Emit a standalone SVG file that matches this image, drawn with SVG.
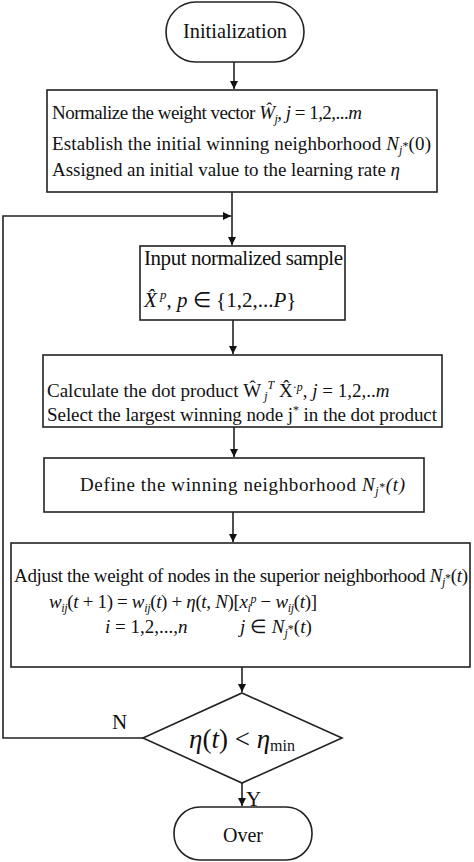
<svg xmlns="http://www.w3.org/2000/svg" width="474" height="862" viewBox="0 0 474 862">
<style>
.shape{fill:#fff;stroke:#222;stroke-width:1.6}
.ln{fill:none;stroke:#222;stroke-width:1.6}
text{font-family:"Liberation Serif","Times New Roman",serif;fill:#111;font-size:19px}
.i{font-style:italic}
.s{font-size:12px}
</style>
<defs>
<marker id="ah" viewBox="0 0 10 10" refX="10" refY="5" markerWidth="8" markerHeight="8" markerUnits="userSpaceOnUse" orient="auto">
<path d="M0,0 L10,5 L0,10 z" fill="#111"/>
</marker>
</defs>
<rect x="0" y="0" width="474" height="862" fill="#fff"/>
<g id="connectors">
<line class="ln" x1="234" y1="62" x2="234" y2="89" marker-end="url(#ah)"/>
<line class="ln" x1="232" y1="192" x2="232" y2="245" marker-end="url(#ah)"/>
<line class="ln" x1="233" y1="320" x2="233" y2="354" marker-end="url(#ah)"/>
<line class="ln" x1="234" y1="427" x2="234" y2="457" marker-end="url(#ah)"/>
<line class="ln" x1="233" y1="512" x2="233" y2="542" marker-end="url(#ah)"/>
<line class="ln" x1="242" y1="667" x2="242" y2="692" marker-end="url(#ah)"/>
<line class="ln" x1="242" y1="783" x2="242" y2="806" marker-end="url(#ah)"/>
<polyline class="ln" points="143,738 3,738 3,216 231,216" marker-end="url(#ah)"/>
<text x="112" y="729" style="font-size:21px">N</text>
<text x="246" y="806" style="font-size:21px">Y</text>
</g>
<g id="init">
<rect class="shape" x="166" y="2" width="138" height="60" rx="30"/>
<text x="235" y="38" text-anchor="middle" style="font-size:21px" textLength="104" lengthAdjust="spacingAndGlyphs">Initialization</text>
</g>
<g id="box1">
<rect class="shape" x="47" y="90" width="390" height="102"/>
<text x="52" y="119" textLength="310">Normalize the weight vector <tspan class="i">Ŵ</tspan><tspan class="s i" dy="4">j</tspan><tspan dy="-4">, </tspan><tspan class="i">j</tspan> = 1,2,...<tspan class="i">m</tspan></text>
<text x="52" y="150" textLength="379">Establish the initial winning neighborhood <tspan class="i">N</tspan><tspan class="s i" dy="4">j</tspan><tspan class="s" dy="-4">*</tspan><tspan>(0)</tspan></text>
<text x="52" y="176" textLength="348">Assigned an initial value to the learning rate <tspan class="i">η</tspan></text>
</g>
<g id="box2">
<rect class="shape" x="140" y="246" width="205" height="74"/>
<text x="144" y="265" style="font-size:21px" textLength="199">Input normalized sample</text>
<text x="144" y="307" style="font-size:21px"><tspan class="i">X̂</tspan><tspan class="i" style="font-size:13px" dy="-8"> p</tspan><tspan dy="8">, </tspan><tspan class="i">p</tspan> ∈ {1,2,...<tspan class="i">P</tspan>}</text>
</g>
<g id="box3">
<rect class="shape" x="43" y="355" width="399" height="72"/>
<text x="47" y="397">Calculate the dot product Ŵ<tspan class="s i" dy="3"> j</tspan><tspan class="s i" dy="-11">T</tspan><tspan dy="8"> X̂</tspan><tspan class="s" dy="-6">·</tspan><tspan class="s i">p</tspan><tspan dy="6">, </tspan><tspan class="i">j</tspan> = 1,2,..<tspan class="i">m</tspan></text>
<text x="47" y="421" textLength="390">Select the largest winning node j<tspan class="s" dy="-7">*</tspan><tspan dy="7"> in the dot product</tspan></text>
</g>
<g id="box4">
<rect class="shape" x="44" y="458" width="380" height="54"/>
<text x="80" y="491" textLength="325">Define the winning neighborhood <tspan class="i">N</tspan><tspan class="s i" dy="4">j</tspan><tspan class="s" dy="-4">*</tspan><tspan class="i">(t)</tspan></text>
</g>
<g id="box5">
<rect class="shape" x="11" y="543" width="459" height="124"/>
<text x="14" y="582" textLength="454">Adjust the weight of nodes in the superior neighborhood <tspan class="i">N</tspan><tspan class="s i" dy="4">j</tspan><tspan class="s" dy="-4">*</tspan><tspan>(</tspan><tspan class="i">t</tspan>)</text>
<text x="49" y="608" textLength="268"><tspan class="i">w</tspan><tspan class="s i" dy="4">ij</tspan><tspan dy="-4">(</tspan><tspan class="i">t</tspan> + 1) = <tspan class="i">w</tspan><tspan class="s i" dy="4">ij</tspan><tspan dy="-4">(</tspan><tspan class="i">t</tspan>) + <tspan class="i">η</tspan>(<tspan class="i">t</tspan>, <tspan class="i">N</tspan>)[<tspan class="i">x</tspan><tspan class="s i" dy="4">i</tspan><tspan class="s i" dy="-9">p</tspan><tspan dy="5"> − </tspan><tspan class="i">w</tspan><tspan class="s i" dy="4">ij</tspan><tspan dy="-4">(</tspan><tspan class="i">t</tspan>)]</text>
<text x="105" y="633"><tspan class="i">i</tspan> = 1,2,...,<tspan class="i">n</tspan></text>
<text x="240" y="633"><tspan class="i">j</tspan> ∈ <tspan class="i">N</tspan><tspan class="s i" dy="4">j</tspan><tspan class="s" dy="-4">*</tspan><tspan>(</tspan><tspan class="i">t</tspan>)</text>
</g>
<g id="decision">
<polygon class="shape" points="242,693 342,738 242,783 143,738"/>
<text x="242" y="748" text-anchor="middle" style="font-size:27px"><tspan class="i">η</tspan>(<tspan class="i">t</tspan>) &lt; <tspan class="i">η</tspan><tspan style="font-size:16px" dy="3">min</tspan></text>
</g>
<g id="over">
<rect class="shape" x="174" y="807" width="138" height="53" rx="26"/>
<text x="243" y="842" text-anchor="middle" style="font-size:20px">Over</text>
</g>
</svg>
